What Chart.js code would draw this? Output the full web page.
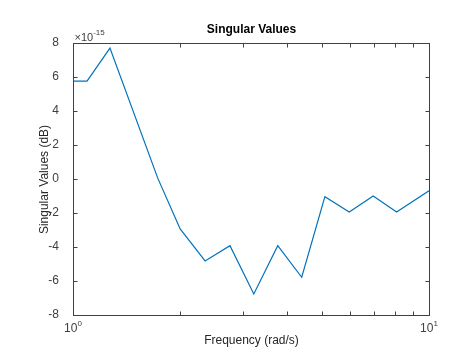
<!DOCTYPE html>
<html>
<head>
<meta charset="utf-8">
<script src="https://cdn.jsdelivr.net/npm/chart.js@4/dist/chart.umd.min.js"></script>
<style>html,body{margin:0;padding:0;background:#fff;}canvas{display:block;}</style>
</head>
<body>
<canvas id="c" width="474" height="355"></canvas>
<script>
// Frequency (rad/s)
const freq = [1, 1.095, 1.27, 1.73, 2.0, 2.35, 2.76, 3.22, 3.76, 4.39, 5.1, 5.97, 6.97, 8.11, 10];
// Singular values (dB), in units of 1e-15
const sv = [5.76, 5.76, 7.7, 0.05, -2.94, -4.82, -3.92, -6.76, -3.92, -5.78, -1.04, -1.94, -1.0, -1.94, -0.69];
const yTicks = [-8, -6, -4, -2, 0, 2, 4, 6, 8];
const xMajor = [1, 10];
const xMinor = [2, 3, 4, 5, 6, 7, 8, 9];
const titleText = 'Singular Values';
const xLabel = 'Frequency (rad/s)';
const yLabel = 'Singular Values (dB)';
const yExponent = '-15';

const FONT = 'Liberation Sans, Arial, Helvetica, sans-serif';
const AX = '#404040';

const deco = {
  id: 'deco',
  afterDraw(chart) {
    const ctx = chart.ctx, a = chart.chartArea;
    const xs = chart.scales.x, ys = chart.scales.y;
    const L = Math.round(a.left) + 0.5, R = Math.round(a.right) + 0.5;
    const T = Math.round(a.top) + 0.5, B = Math.round(a.bottom) + 0.5;
    ctx.save();
    ctx.strokeStyle = AX; ctx.lineWidth = 1;
    ctx.strokeRect(L, T, R - L, B - T);
    const tl = 4;
    ctx.beginPath();
    xMajor.concat(xMinor).forEach(v => {
      const px = Math.round(xs.getPixelForValue(v)) + 0.5;
      ctx.moveTo(px, B); ctx.lineTo(px, B - tl);
      ctx.moveTo(px, T); ctx.lineTo(px, T + tl);
    });
    yTicks.forEach(v => {
      const py = Math.round(ys.getPixelForValue(v)) + 0.5;
      ctx.moveTo(L, py); ctx.lineTo(L + tl, py);
      ctx.moveTo(R, py); ctx.lineTo(R - tl, py);
    });
    ctx.stroke();
    // x tick labels 10^n
    ctx.fillStyle = AX;
    xMajor.forEach(v => {
      const px = xs.getPixelForValue(v);
      const e = String(Math.round(Math.log10(v)));
      ctx.font = '12px ' + FONT;
      const w1 = ctx.measureText('10').width;
      ctx.font = '8px ' + FONT;
      const w2 = ctx.measureText(e).width;
      const x0 = px - (w1 + w2) / 2;
      ctx.textAlign = 'left'; ctx.textBaseline = 'alphabetic';
      ctx.font = '12px ' + FONT;
      ctx.fillText('10', x0, B + 16);
      ctx.font = '8px ' + FONT;
      ctx.fillText(e, x0 + w1, B + 10);
    });
    // exponent
    ctx.font = '11px ' + FONT;
    ctx.textAlign = 'left';
    const xw = ctx.measureText('\u00d710').width;
    ctx.fillText('\u00d710', L + 1, T - 3);
    ctx.font = '8px ' + FONT;
    ctx.fillText(yExponent, L + 1 + xw, T - 9);
    // title
    ctx.fillStyle = '#000';
    ctx.font = 'bold 12px ' + FONT;
    ctx.textAlign = 'center';
    ctx.fillText(titleText, (L + R) / 2, T - 11);
    // x label
    ctx.fillStyle = '#262626';
    ctx.font = '12px ' + FONT;
    ctx.fillText(xLabel, (L + R) / 2, 344);
    // y label
    ctx.save();
    ctx.translate(48, (T + B) / 2);
    ctx.rotate(-Math.PI / 2);
    ctx.fillText(yLabel, 0, 0);
    ctx.restore();
    ctx.restore();
  }
};

new Chart(document.getElementById('c'), {
  type: 'line',
  data: {
    datasets: [{
      data: freq.map((f, i) => ({ x: f, y: sv[i] })),
      borderColor: '#0072BD',
      borderWidth: 1.2,
      pointRadius: 0,
      tension: 0,
      fill: false
    }]
  },
  options: {
    responsive: false,
    animation: false,
    events: [],
    layout: { padding: { left: 0, right: 45, top: 43, bottom: 0 } },
    plugins: { legend: { display: false }, tooltip: { enabled: false }, title: { display: false } },
    scales: {
      x: {
        type: 'logarithmic', min: 1, max: 10,
        grid: { display: false }, border: { display: false },
        ticks: { display: false },
        afterFit(s) { s.height = 40; }
      },
      y: {
        type: 'linear', min: -8, max: 8,
        grid: { display: false }, border: { display: false },
        afterBuildTicks(s) { s.ticks = yTicks.map(v => ({ value: v })); },
        ticks: { color: AX, font: { size: 12, family: FONT }, padding: 6, callback: v => String(v) },
        afterFit(s) { s.width = 73; }
      }
    }
  },
  plugins: [deco]
});
</script>
</body>
</html>
